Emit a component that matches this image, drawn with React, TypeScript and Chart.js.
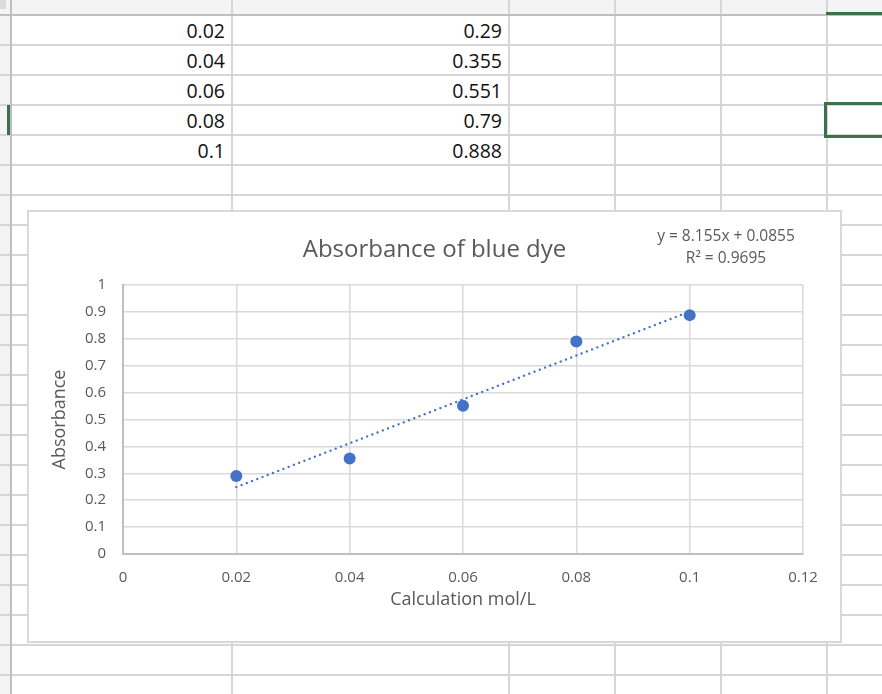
import React, { useEffect, useRef } from 'react';
import { Chart, registerables } from 'chart.js';

Chart.register(...registerables);

// ---- data ----
const CONCENTRATION = [0.02, 0.04, 0.06, 0.08, 0.1];
const ABSORBANCE = [0.29, 0.355, 0.551, 0.79, 0.888];
const CELL_COL_A = ['0.02', '0.04', '0.06', '0.08', '0.1'];
const CELL_COL_B = ['0.29', '0.355', '0.551', '0.79', '0.888'];
const X_TICK_LABELS = ['0', '0.02', '0.04', '0.06', '0.08', '0.1', '0.12'];
const Y_TICK_LABELS = ['0', '0.1', '0.2', '0.3', '0.4', '0.5', '0.6', '0.7', '0.8', '0.9', '1'];
const TREND_SLOPE = 8.155;
const TREND_INTERCEPT = 0.0855;
const EQUATION_LINES = ['y = 8.155x + 0.0855', 'R\u00B2 = 0.9695'];
const CHART_TITLE = 'Absorbance of blue dye';
const X_TITLE = 'Calculation mol/L';
const Y_TITLE = 'Absorbance';

// ---- styling / layout ----
const FONT = '"Open Sans", "Noto Sans", sans-serif';
const TEXT = '#595959';
const GRID = '#d9d9d9';
const AXIS = '#bfbfbf';
const BLUE = '#4472C4';
const SHEET_LINE = '#d6d6d6';
const HEADER_LINE = '#bfbfbf';
const GREEN = '#3a7148';
const COL_LINES = [231, 508, 614, 720, 826];

function labelFor(list: string[], v: number) {
  const hit = list.find((l) => Math.abs(parseFloat(l) - v) < 1e-6);
  return hit ?? '';
}

const equationPlugin = {
  id: 'equationLabel',
  afterDraw(chart: any) {
    const { ctx, chartArea } = chart;
    ctx.save();
    ctx.font = `15.5px ${FONT}`;
    ctx.fillStyle = TEXT;
    ctx.textAlign = 'center';
    ctx.textBaseline = 'middle';
    const cx = chartArea.right - 77;
    ctx.fillText(EQUATION_LINES[0], cx, chartArea.top - 48.5);
    ctx.fillText(EQUATION_LINES[1], cx, chartArea.top - 26.5);
    ctx.restore();
  },
};

function ChartBox() {
  const ref = useRef<HTMLCanvasElement | null>(null);
  useEffect(() => {
    if (!ref.current) return;
    const x0 = CONCENTRATION[0];
    const x1 = CONCENTRATION[CONCENTRATION.length - 1];
    const trend = [
      { x: x0, y: TREND_SLOPE * x0 + TREND_INTERCEPT },
      { x: x1, y: TREND_SLOPE * x1 + TREND_INTERCEPT },
    ];
    const chart = new Chart(ref.current, {
      type: 'scatter',
      data: {
        datasets: [
          {
            label: 'Absorbance',
            data: CONCENTRATION.map((x, i) => ({ x, y: ABSORBANCE[i] })),
            backgroundColor: BLUE,
            borderColor: BLUE,
            pointRadius: 6,
            pointBorderWidth: 0,
            showLine: false,
          },
          {
            label: 'Linear trend',
            type: 'line',
            data: trend,
            borderColor: BLUE,
            borderWidth: 2.4,
            borderDash: [0.01, 5.6],
            borderCapStyle: 'round',
            pointRadius: 0,
            fill: false,
          } as any,
        ],
      },
      options: {
        animation: false,
        responsive: false,
        devicePixelRatio: 1,
        layout: { padding: 0 },
        plugins: {
          legend: { display: false },
          tooltip: { enabled: false },
          title: {
            display: true,
            text: CHART_TITLE,
            color: TEXT,
            font: { family: FONT, size: 24, weight: 'normal', lineHeight: 1.2 },
            padding: { top: 24, bottom: 20.2 },
          },
        },
        scales: {
          x: {
            type: 'linear',
            position: 'bottom',
            min: 0,
            max: 0.12,
            afterFit: (s: any) => {
              s.height = 87;
            },
            ticks: {
              stepSize: 0.02,
              padding: 15,
              color: TEXT,
              font: { family: FONT, size: 15 },
              maxRotation: 0,
              autoSkip: false,
              callback: (v: any) => labelFor(X_TICK_LABELS, Number(v)),
            },
            grid: { color: GRID, lineWidth: 1.5, drawTicks: false },
            border: { display: true, color: AXIS, width: 2, z: 1 },
            title: {
              display: true,
              text: X_TITLE,
              color: TEXT,
              font: { family: FONT, size: 18, lineHeight: 1.2 },
              padding: { top: 0, bottom: 30.7 },
            },
          },
          y: {
            type: 'linear',
            position: 'left',
            min: 0,
            max: 1,
            afterFit: (s: any) => {
              s.width = 94;
            },
            ticks: {
              stepSize: 0.1,
              padding: 17,
              color: TEXT,
              font: { family: FONT, size: 15 },
              callback: (v: any) => labelFor(Y_TICK_LABELS, Number(v)),
            },
            grid: { color: GRID, lineWidth: 1.5, drawTicks: false },
            border: { display: true, color: AXIS, width: 2, z: 1 },
            title: {
              display: true,
              text: Y_TITLE,
              color: TEXT,
              font: { family: FONT, size: 18, lineHeight: 1.2 },
              padding: { top: 19.7, bottom: 0 },
            },
          },
          // empty right-hand gutter so the title centres over the whole chart box
          gutter: {
            type: 'linear',
            position: 'right',
            display: true,
            min: 0,
            max: 1,
            afterFit: (s: any) => {
              s.width = 37;
            },
            ticks: { display: false },
            grid: { display: false, drawTicks: false },
            border: { display: false },
            title: { display: false },
          },
        },
      } as any,
      plugins: [equationPlugin],
    });
    return () => chart.destroy();
  }, []);
  return <canvas ref={ref} width={811} height={429} style={{ display: 'block', width: 811, height: 429 }} />;
}

export default function App() {
  const rowLines: number[] = [];
  for (let y = 44; y < 694; y += 30) rowLines.push(y);
  return (
    <div
      style={{
        position: 'fixed',
        left: 0,
        top: 0,
        width: 882,
        height: 694,
        overflow: 'hidden',
        background: '#ffffff',
        fontFamily: FONT,
      }}
    >
      {/* column header strip */}
      <div style={{ position: 'absolute', left: 0, top: 0, width: 882, height: 14, background: '#f4f4f4' }} />
      {/* row header strip */}
      <div style={{ position: 'absolute', left: 0, top: 0, width: 10, height: 694, background: '#f4f4f4' }} />
      {/* row lines */}
      {rowLines.map((y) => (
        <div key={'r' + y} style={{ position: 'absolute', left: 0, top: y, width: 882, height: 2, background: SHEET_LINE }} />
      ))}
      {/* column lines */}
      {COL_LINES.map((x) => (
        <div key={'c' + x} style={{ position: 'absolute', left: x, top: 0, width: 2, height: 694, background: SHEET_LINE }} />
      ))}
      {/* header borders */}
      <div style={{ position: 'absolute', left: 0, top: 14, width: 882, height: 2, background: HEADER_LINE }} />
      <div style={{ position: 'absolute', left: 10, top: 0, width: 2, height: 694, background: HEADER_LINE }} />
      <div style={{ position: 'absolute', left: 0, top: 0, width: 6, height: 9, background: '#dcdcdc' }} />
      {/* cell values */}
      {CELL_COL_A.map((t, i) => (
        <div
          key={'a' + i}
          style={{
            position: 'absolute',
            left: 12,
            width: 213,
            top: 16 + 30 * i,
            height: 30,
            lineHeight: '30px',
            fontSize: 19.5,
            textAlign: 'right',
            color: '#111',
          }}
        >
          {t}
        </div>
      ))}
      {CELL_COL_B.map((t, i) => (
        <div
          key={'b' + i}
          style={{
            position: 'absolute',
            left: 233,
            width: 269,
            top: 16 + 30 * i,
            height: 30,
            lineHeight: '30px',
            fontSize: 19.5,
            textAlign: 'right',
            color: '#111',
          }}
        >
          {t}
        </div>
      ))}
      {/* selection highlights */}
      <div style={{ position: 'absolute', left: 826, top: 12, width: 56, height: 3, background: GREEN }} />
      <div
        style={{
          position: 'absolute',
          left: 824,
          top: 102,
          width: 70,
          height: 36,
          boxSizing: 'border-box',
          border: `3px solid ${GREEN}`,
        }}
      />
      <div style={{ position: 'absolute', left: 7, top: 105, width: 3, height: 30, background: GREEN }} />
      {/* chart box */}
      <div
        style={{
          position: 'absolute',
          left: 27,
          top: 210,
          width: 815,
          height: 433,
          boxSizing: 'border-box',
          border: '2px solid #d9d9d9',
          background: '#ffffff',
        }}
      >
        <ChartBox />
      </div>
    </div>
  );
}
